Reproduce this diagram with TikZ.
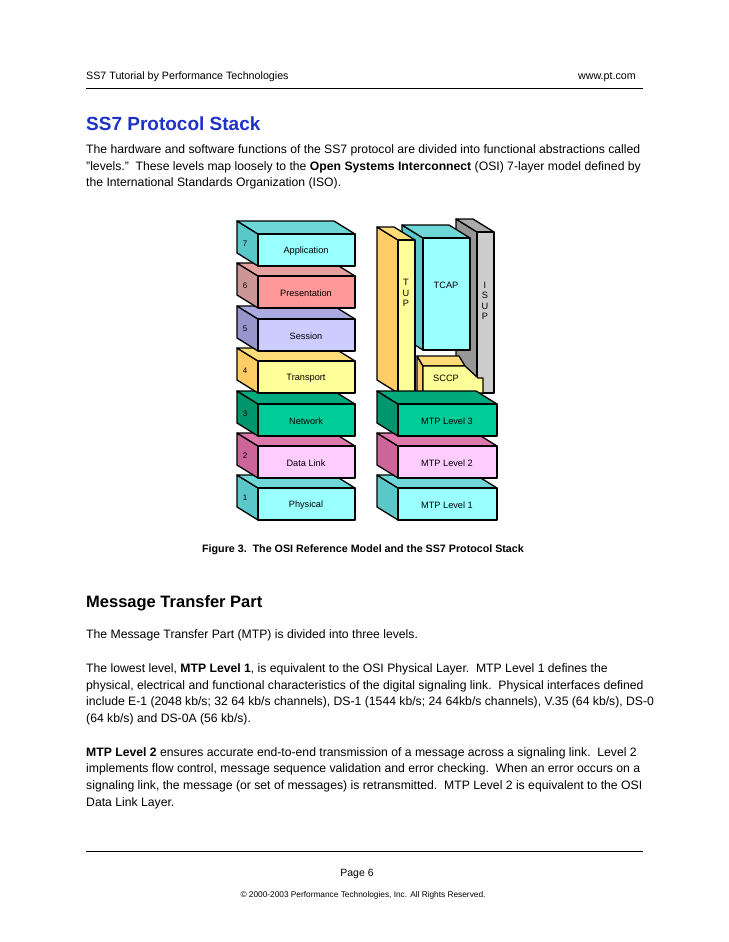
\documentclass[tikz,border=0pt]{standalone}
\usepackage{fontspec}
\setmainfont{Liberation Sans}
\begin{document}
\begin{tikzpicture}[x=1pt,y=-1pt,
  body/.style={anchor=base west,font=\fontsize{12.2}{14}\selectfont,inner sep=0},
  lbl/.style={font=\fontsize{9.2}{10.5}\selectfont,inner sep=0},
  num/.style={font=\fontsize{8}{9}\selectfont,inner sep=0},
  edge/.style={draw=black,line width=1.3pt,line join=round}]
\useasboundingbox (0,0) rectangle (728,942);
\fill[white] (0,0) rectangle (728,942);
% header/footer
\node[anchor=base west,font=\fontsize{10.7}{12}\selectfont,inner sep=0] (hl) at (86,79) {SS7 Tutorial by Performance Technologies};
\node[anchor=base east,font=\fontsize{10.7}{12}\selectfont,inner sep=0] (hr) at (636,79) {www.pt.com};
\draw[line width=0.6pt] (86,88) -- (643,88);
\draw[line width=0.6pt] (86,851) -- (643,851);
\node[anchor=base,font=\fontsize{10.5}{12}\selectfont,inner sep=0] (pg) at (357,876) {Page 6};
\node[anchor=base,font=\fontsize{8.3}{10}\selectfont,inner sep=0] (cp) at (363,897) {\textcopyright{} 2000-2003 Performance Technologies, Inc. All Rights Reserved.};
% title
\node[anchor=base west,inner sep=0,font=\fontsize{19}{22}\selectfont\bfseries,text={rgb,255:red,30;green,50;blue,200}] (t1) at (86,130) {SS7 Protocol Stack};
\node[body] (p1) at (86,153) {The hardware and software functions of the SS7 protocol are divided into functional abstractions called};
\node[body] (p2) at (86,170) {"levels."\ \ These levels map loosely to the \textbf{Open Systems Interconnect} (OSI) 7-layer model defined by};
\node[body] (p3) at (86,186) {the International Standards Organization (ISO).};
\node[anchor=base,inner sep=0,font=\fontsize{10.7}{12}\selectfont\bfseries] (cap) at (363,552) {Figure 3.\ \ The OSI Reference Model and the SS7 Protocol Stack};
\node[anchor=base west,inner sep=0,font=\fontsize{16.5}{19}\selectfont\bfseries] (t2) at (86,607) {Message Transfer Part};
\node[body] (q1) at (86,638) {The Message Transfer Part (MTP) is divided into three levels.};
\node[body] (q2) at (86,672) {The lowest level, \textbf{MTP Level 1}, is equivalent to the OSI Physical Layer.\ \ MTP Level 1 defines the};
\node[body] (q3) at (86,689) {physical, electrical and functional characteristics of the digital signaling link.\ \ Physical interfaces defined};
\node[body] (q4) at (86,705) {include E-1 (2048 kb/s; 32 64 kb/s channels), DS-1 (1544 kb/s; 24 64kb/s channels), V.35 (64 kb/s), DS-0};
\node[body] (q5) at (86,722) {(64 kb/s) and DS-0A (56 kb/s).};
\node[body] (q6) at (86,756) {\textbf{MTP Level 2} ensures accurate end-to-end transmission of a message across a signaling link.\ \ Level 2};
\node[body] (q7) at (86,772) {implements flow control, message sequence validation and error checking.\ \ When an error occurs on a};
\node[body] (q8) at (86,789) {signaling link, the message (or set of messages) is retransmitted.\ \ MTP Level 2 is equivalent to the OSI};
\node[body] (q9) at (86,806) {Data Link Layer.};
% box macro: x, ytop, w, h, front, side, top
\newcommand{\lbox}[7]{%
  \filldraw[edge,fill=#6] (#1,#2) -- ++(-21,-13) -- ++(0,#4) -- (#1,#2+#4) -- cycle;
  \filldraw[edge,fill=#7] (#1,#2) -- ++(-21,-13) -- ++(#3,0) -- (#1+#3,#2) -- cycle;
  \filldraw[edge,fill=#5] (#1,#2) rectangle ++(#3,#4);}
\definecolor{cyf}{RGB}{153,255,255}\definecolor{cys}{RGB}{90,200,200}\definecolor{cyt}{RGB}{110,215,215}
\definecolor{prf}{RGB}{255,153,153}\definecolor{prs}{RGB}{204,150,150}\definecolor{prt}{RGB}{230,160,160}
\definecolor{sef}{RGB}{204,204,255}\definecolor{ses}{RGB}{150,150,204}\definecolor{set}{RGB}{170,170,225}
\definecolor{trf}{RGB}{255,255,153}\definecolor{trs}{RGB}{255,204,102}\definecolor{trt}{RGB}{255,220,120}
\definecolor{nef}{RGB}{0,204,153}\definecolor{nes}{RGB}{0,150,110}\definecolor{net}{RGB}{0,170,125}
\definecolor{dlf}{RGB}{255,204,255}\definecolor{dls}{RGB}{204,102,153}\definecolor{dlt}{RGB}{220,120,170}
\definecolor{isf}{RGB}{205,205,205}\definecolor{iss}{RGB}{150,150,150}\definecolor{ist}{RGB}{170,170,170}
% left stack (bottom first)
\lbox{258}{488}{97}{32}{cyf}{cys}{cyt}
\lbox{258}{446}{97}{32}{dlf}{dls}{dlt}
\lbox{258}{404}{97}{32}{nef}{nes}{net}
\lbox{258}{361}{97}{32}{trf}{trs}{trt}
\lbox{258}{319}{97}{32}{sef}{ses}{set}
\lbox{258}{276}{97}{32}{prf}{prs}{prt}
\lbox{258}{234}{97}{32}{cyf}{cys}{cyt}
\foreach \n/\t/\y in {app/Application/251,pre/Presentation/293,ses/Session/336,tra/Transport/378,net/Network/421,dl/Data Link/463,phy/Physical/505}
  \node[lbl] (\n) at (306,\y) {\t};
\foreach \k/\y in {7/244,6/286,5/329,4/371,3/414,2/456,1/498}
  \node[num] (n\k) at (245,\y) {\k};
% right stack upper part
\lbox{477}{232}{17}{161}{isf}{iss}{ist}
\lbox{423}{238}{47}{112}{cyf}{cys}{cyt}
\filldraw[edge,fill=trs] (423,366) -- (417,356) -- (417,393) -- (423,393) -- cycle;
\filldraw[edge,fill=trt] (423,366) -- (417,356) -- (459,356) -- (465,366) -- cycle;
\filldraw[edge,fill=trf] (423,366) -- (465,366) -- (478,378) -- (483,378) -- (483,393) -- (423,393) -- cycle;
\lbox{398}{240}{17}{153}{trf}{trs}{trt}
% MTP
\lbox{398}{488}{99}{32}{cyf}{cys}{cyt}
\lbox{398}{446}{99}{32}{dlf}{dls}{dlt}
\lbox{398}{404}{99}{32}{nef}{nes}{net}
\node[lbl] (m3) at (447,421) {MTP Level 3};
\node[lbl] (m2) at (447,463) {MTP Level 2};
\node[lbl] (m1) at (447,505) {MTP Level 1};
\node[lbl] (sccp) at (446,378) {SCCP};
\node[lbl] (tcap) at (446,285) {TCAP};
\node[lbl,align=center] (tup) at (406,293) {T\\U\\P};
\node[lbl,align=center] (isup) at (485,301) {I\\S\\U\\P};
\end{tikzpicture}
\end{document}
